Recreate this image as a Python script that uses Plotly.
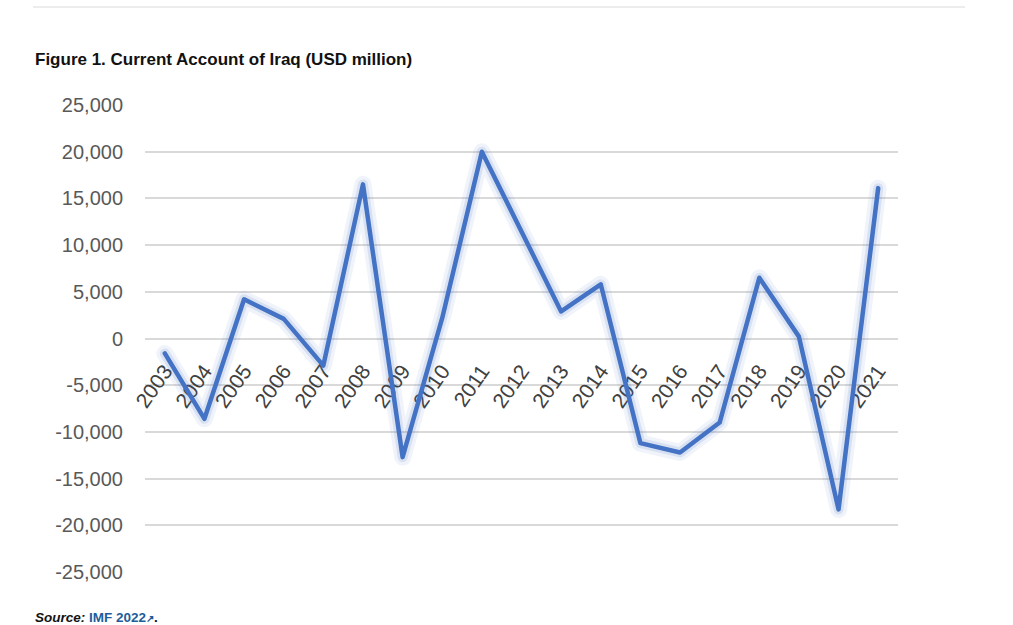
import plotly.graph_objects as go

years = [str(y) for y in range(2003, 2022)]
current_account = [-1600, -8600, 4200, 2100, -2900, 16500, -12700, 2200, 20000,
                   11500, 2900, 5800, -11200, -12200, -9000, 6500, 200, -18300, 16100]
y_ticks = [-25000, -20000, -15000, -10000, -5000, 0, 5000, 10000, 15000, 20000, 25000]
y_tick_labels = [f"{v:,}" for v in y_ticks]

title_text = "Figure 1. Current Account of Iraq (USD million)"
FONT = "Arial, 'Liberation Sans', sans-serif"
BLUE = "#4472C4"

fig = go.Figure()
# soft glow beneath the main line
fig.add_trace(go.Scatter(x=years, y=current_account, mode="lines",
                         line=dict(color="rgba(68,114,196,0.08)", width=17),
                         hoverinfo="skip", showlegend=False))
fig.add_trace(go.Scatter(x=years, y=current_account, mode="lines",
                         line=dict(color="rgba(68,114,196,0.14)", width=10),
                         hoverinfo="skip", showlegend=False))
fig.add_trace(go.Scatter(x=years, y=current_account, mode="lines",
                         line=dict(color=BLUE, width=4.5),
                         showlegend=False))

fig.update_layout(
    width=1013, height=625,
    margin=dict(l=145, r=115, t=105, b=53),
    paper_bgcolor="white", plot_bgcolor="white",
    font=dict(family=FONT, color="#595959"),
    xaxis=dict(type="category", range=[-0.5, 18.5], showgrid=False, zeroline=False,
               showline=False, anchor="free", position=0.5, tickangle=-55,
               ticks="outside", ticklen=11, tickcolor="rgba(0,0,0,0)",
               tickfont=dict(size=21, color="#404040", family=FONT),
               layer="below traces"),
    yaxis=dict(range=[-25000, 25000], tickvals=y_ticks, ticktext=y_tick_labels,
               showgrid=True, gridcolor="#d9d9d9", gridwidth=1.5, zeroline=False,
               showline=False, ticks="outside", ticklen=17, tickcolor="rgba(0,0,0,0)",
               tickfont=dict(size=20, color="#595959", family=FONT),
               layer="below traces"),
    shapes=[dict(type="line", xref="paper", yref="paper",
                 x0=-0.1487, x1=1.089, y0=1.2098, y1=1.2098,
                 line=dict(color="#e6e6e6", width=1.5))],
    annotations=[
        dict(text=f"<b>{title_text}</b>", xref="paper", yref="paper",
             x=-0.1487, y=1.0964, xanchor="left", yanchor="middle", showarrow=False,
             font=dict(size=17, color="#111111", family=FONT)),
        dict(text="<b><i>Source:</i></b> <b><span style='color:#1d5d9b'>IMF 2022<span style='font-size:10px'>↗</span></span>.</b>",
             xref="paper", yref="paper", x=-0.1487, y=-0.0985,
             xanchor="left", yanchor="middle", showarrow=False,
             font=dict(size=13.5, color="#111111", family=FONT)),
    ],
)

round_joins = (
    "document.querySelectorAll('.scatterlayer path.js-line').forEach(function(p){"
    "p.style.strokeLinejoin='round'; p.style.strokeLinecap='round';});"
)
fig.write_html("out.html", post_script=round_joins)
